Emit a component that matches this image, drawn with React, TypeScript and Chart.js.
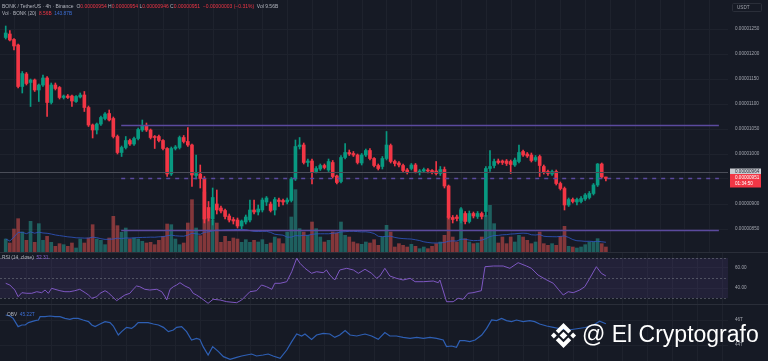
import React, { useEffect, useRef } from "react";
import { Chart, registerables } from "chart.js";
Chart.register(...registerables);

// ---------------- data ----------------
// prices are in units of 0.00000001 USDT (BONK/USDT, 4h candles)
const PRICE_UNIT = 1e-8;
const OPEN = [1233,1240,1229,1218,1135,1160,1143,1148,1128,1138,1152,1103,1138,1133,1113,1116,1116,1105,1114,1118,1093,1058,1048,1060,1071,1081,1071,1035,1003,1013,1027,1020,1031,1048,1057,1048,1035,1035,1027,1011,960,1011,1013,1033,1025,1018,957,960,951,893,870,900,892,887,876,869,868,856,864,868,888,884,888,904,900,888,908,907,904,907,950,1015,1018,983,986,965,970,977,968,983,956,945,993,1003,1001,998,982,998,1007,991,977,975,991,1017,985,982,977,968,971,978,963,966,968,967,966,961,969,936,873,874,867,881,865,881,875,881,885,971,977,986,986,986,985,978,985,1005,1000,998,988,995,975,965,960,965,941,931,898,909,904,905,910,913,921,938,980,954];
const HIGH = [1256,1247,1231,1220,1165,1163,1150,1150,1140,1158,1155,1142,1142,1135,1118,1119,1118,1117,1122,1125,1096,1060,1062,1076,1083,1088,1074,1038,1016,1035,1030,1034,1052,1068,1062,1050,1037,1038,1029,1013,1014,1017,1036,1037,1053,1020,998,978,955,905,932,928,896,890,880,873,872,868,878,908,908,898,912,915,904,913,912,910,912,953,1028,1033,1022,990,990,975,980,980,990,987,958,997,1021,1008,1005,1000,1001,1010,1011,993,980,995,1045,1020,988,985,980,971,981,981,969,972,971,969,985,975,974,938,877,878,893,885,886,884,885,884,975,1007,990,990,988,989,988,992,1018,1008,1003,1002,997,998,978,968,968,968,944,934,912,912,912,915,921,925,941,981,982,954];
const LOW = [1230,1226,1208,1132,1122,1138,1095,1125,1105,1135,1075,1100,1128,1110,1110,1111,1095,1103,1112,1085,1055,1032,1040,1057,1068,1066,1032,1000,995,1010,1017,1017,1028,1045,1045,1030,1011,1024,1008,955,957,1008,1010,1022,1015,935,950,932,862,866,858,880,882,870,864,860,852,850,860,864,880,878,884,897,884,878,895,898,900,904,947,1010,980,975,940,962,967,970,965,952,940,942,990,997,995,980,978,995,988,974,968,970,988,982,976,974,964,960,968,962,958,963,962,960,958,957,932,870,862,866,862,860,862,872,871,870,875,965,972,980,979,977,961,975,982,995,993,984,985,955,960,957,957,938,928,888,895,902,898,902,907,910,918,935,952,946];
const CLOSE = [1242,1228,1216,1135,1161,1141,1148,1128,1138,1152,1103,1138,1131,1113,1116,1113,1106,1115,1118,1093,1058,1048,1060,1073,1080,1068,1035,1003,1013,1027,1020,1031,1049,1056,1048,1033,1033,1027,1011,960,1011,1014,1033,1025,1018,958,961,951,870,872,913,888,886,875,868,866,856,866,874,888,884,890,908,912,887,909,905,904,908,950,1015,1018,983,986,963,971,977,973,985,955,943,993,1003,1000,998,983,998,1007,991,977,971,991,1018,985,981,978,967,963,978,965,966,969,966,963,961,969,936,873,869,871,888,865,881,876,881,875,971,975,985,983,983,981,979,988,1003,998,996,987,993,977,963,961,965,941,931,898,909,905,909,911,918,921,938,980,954,951];
// volume, relative units (last bar = 8.56B)
const VOLUME = [39,27,69,100,60,35,92,29,85,35,47,29,17,25,22,17,27,12,39,27,42,82,39,35,22,42,107,79,59,72,39,42,39,32,27,29,22,35,47,84,82,39,22,27,87,157,72,49,180,102,95,87,29,47,32,42,39,29,37,29,35,30,37,23,27,45,40,25,60,105,187,70,60,50,90,70,45,30,35,60,57,90,50,45,30,25,23,30,27,37,20,45,80,60,15,25,20,15,23,17,10,15,10,17,25,30,50,107,45,30,130,40,30,25,27,45,110,140,85,27,45,25,45,30,50,45,35,25,30,60,25,20,25,20,47,77,17,15,12,15,22,30,30,40,25,15];
// RSI (14, close): [candle index, value]
const RSI_POINTS: [number, number][] = [[0,44.7],[1,43],[2.2,38],[3,31.3],[3.9,35.3],[5.1,34.7],[6.3,34.7],[7.5,36.3],[8.7,35.3],[9.5,38],[10.3,34.7],[11.1,39.7],[11.9,38.7],[13.1,37.3],[14.3,36.3],[15.5,36.3],[16.7,37.3],[17.9,38.7],[19.2,35.3],[20,33],[20.8,29.7],[22,31.3],[22.8,34.7],[24,37.3],[24.8,35.3],[25.6,32],[26.8,27.3],[27.6,29.7],[28.8,33],[30,34.7],[30.8,38.7],[31.6,42],[32.4,41.3],[33.6,38.7],[34.8,38],[36.5,38.7],[37.7,36.3],[38.5,31.3],[38.9,28],[39.7,38.7],[40.5,41.3],[41.3,43],[42.1,45.3],[43.3,42],[44.5,39.7],[45.3,34.7],[46.1,33],[47.3,29.7],[48.9,24.7],[50.1,28.7],[51.8,28],[53.4,26.3],[55.8,25.3],[57,28],[59,36.3],[60.6,37.3],[61.8,43],[63,41.3],[64.3,38.7],[65,44.7],[66.3,44.7],[67.9,46.3],[69.1,56.3],[70.3,69.7],[71.1,64.7],[72.3,59.7],[73.9,54.7],[75.1,56.3],[76.7,55.3],[77.5,58],[78.3,53],[79.5,48],[80.7,58],[82.4,59.7],[84,58],[85.2,54.7],[86.8,58.7],[88.4,54.7],[89.6,49.7],[90.4,52],[91.6,59.7],[92.8,52],[94.4,49.7],[96,48],[97.7,49.7],[98.9,46.3],[100.9,46.3],[103.3,47],[104.5,45.3],[104.9,48],[106.5,26.3],[108.1,26.3],[109.3,29.7],[110.5,28.7],[111.7,34.7],[112.9,35.3],[114.9,37.3],[115.8,61.3],[117.8,62],[120.2,62],[121.8,59.7],[123.8,65.3],[125.8,62],[127,59.7],[128.6,53],[130.4,48.7],[132.3,44.7],[133.5,38.7],[134.7,33],[135.9,36.3],[137.1,35.3],[138.7,38],[139.9,41.3],[141.1,49.7],[142.7,61.3],[143.9,54.7],[145,52]];
// OBV in trillions: [candle index, value]
const OBV_POINTS: [number, number][] = [[0,46.4],[1,46.32],[1.8,46.13],[3,45.47],[3.9,45.6],[4.7,45.6],[5.5,45.79],[6.3,45.87],[7.1,45.95],[7.9,46],[8.3,46.27],[9.5,46.27],[10.7,46.32],[11.9,46.27],[13.1,46.27],[14.3,46.13],[15.5,46.05],[16.3,46.13],[17.5,46.13],[18.7,46],[20,45.87],[20.8,45.6],[21.6,45.47],[22.8,45.68],[24,45.87],[25.2,45.79],[26,45.52],[27.2,44.8],[28,45.07],[29.2,45.41],[30.4,45.33],[31.2,45.52],[32,45.79],[33.2,45.79],[34.4,45.79],[35.7,45.68],[36.9,45.6],[38.1,45.41],[39.3,45.07],[40.5,45.2],[41.3,45.41],[42.5,45.47],[43.7,45.07],[44.9,44.4],[46.1,44.53],[46.9,44.45],[47.7,43.87],[48.9,43.2],[50,43.87],[51.4,43.47],[52.6,43.07],[54.2,42.85],[55.8,43.01],[57,43.12],[58.2,43.2],[59.4,43.28],[60.6,43.12],[62.2,43.2],[63.4,43.28],[64.6,43.12],[66.3,42.93],[67.9,43.6],[69.1,44.27],[70.3,44.88],[71.5,44.72],[72.3,44.88],[73.9,44.45],[75.1,44.8],[76.7,44.93],[78.3,44.88],[79.5,44.61],[80.7,44.8],[82,45.15],[83.2,44.8],[84.8,44.72],[86.8,44.88],[88.4,44.72],[90,44.45],[91.6,44.99],[92.8,44.72],[94.4,44.72],[96,44.61],[97.7,44.53],[99.3,44.61],[100.9,44.53],[102.5,44.61],[104.1,44.53],[105.7,44.4],[106.5,43.87],[107.7,43.92],[108.9,43.81],[109.7,44.35],[110.9,44.35],[112.1,44.27],[113.4,44.4],[115,44.8],[116.2,45.33],[117.4,46],[118.6,45.95],[119.8,46.13],[121,45.95],[122.2,45.87],[123.4,46],[125,45.87],[126.6,45.95],[127.8,45.87],[129,45.68],[130.7,45.52],[132.3,45.41],[134,45.3],[136,45.2],[138,45.3],[140,45.4],[142,45.6],[143.5,45.9],[145,45.7]];

const PRICE_TICKS = [850, 900, 950, 1000, 1050, 1100, 1150, 1200, 1250];
const RSI_TICKS = [40, 60];
const OBV_TICKS = [44, 46];

// horizontal drawings (price levels, from/to candle index)
const LEVEL_PRICES = [1058, 964, 952, 848];
const LEVEL_FROM = [27.9, -1.4, 27.9, 27.9];
const LEVEL_TO = [172.3, 174.5, 172.3, 172.3];
const LEVEL_DASHED = [false, false, true, false];
const LEVEL_COLORS = ["#5b4a9e", "#4a4d58", "#5b4a9e", "#5b4a9e"];

// ---------------- style ----------------
const BG = "#161a25";
const GRID = "#1e222d";
const TXT = "#a3a6af";
const GREEN = "#089981";
const RED = "#f23645";
const FONT = "'Liberation Sans', Arial, sans-serif";
const X_MIN = -1.38;
const X_MAX = 174.5;
const GRID_START = 5.09;
const GRID_STEP = 6;
const AXIS_W = 40;

const fmtPrice = (v: number) => (v * PRICE_UNIT).toFixed(8);

function xAxis(): any {
  return {
    type: "linear",
    min: X_MIN,
    max: X_MAX,
    offset: false,
    ticks: { display: false },
    grid: { color: GRID, drawTicks: false, lineWidth: 1 },
    border: { display: false },
    afterBuildTicks: (s: any) => {
      const t: any[] = [];
      for (let v = GRID_START; v < X_MAX; v += GRID_STEP) t.push({ value: v });
      s.ticks = t;
    },
  };
}

function rightAxis(min: number, max: number, ticks: number[], fmt: (v: number) => string): any {
  return {
    type: "linear",
    position: "right",
    min,
    max,
    afterBuildTicks: (s: any) => {
      s.ticks = ticks.map((v) => ({ value: v }));
    },
    afterFit: (s: any) => {
      s.width = AXIS_W;
      s.paddingTop = 0;
      s.paddingBottom = 0;
    },
    ticks: { color: TXT, font: { family: FONT, size: 4.6 }, padding: 7, callback: (v: any) => fmt(Number(v)) },
    grid: { color: GRID, drawTicks: false },
    border: { display: false },
  };
}

const baseOpts: any = {
  responsive: false,
  maintainAspectRatio: false,
  animation: false,
  events: [],
  layout: { padding: 0 },
  plugins: { legend: { display: false }, tooltip: { enabled: false } },
};

const levelsPlugin = {
  id: "levels",
  afterDatasetsDraw(chart: any) {
    const { ctx, scales } = chart;
    const xs = scales.x, ys = scales.y;
    ctx.save();
    LEVEL_PRICES.forEach((p, k) => {
      const y = Math.round(ys.getPixelForValue(p)) + 0.5;
      ctx.beginPath();
      ctx.strokeStyle = LEVEL_COLORS[k];
      ctx.lineWidth = k === 1 ? 1 : 1.4;
      ctx.setLineDash(LEVEL_DASHED[k] ? [4, 5] : []);
      ctx.moveTo(xs.getPixelForValue(LEVEL_FROM[k]), y);
      ctx.lineTo(xs.getPixelForValue(LEVEL_TO[k]), y);
      ctx.stroke();
    });
    ctx.restore();
  },
  afterDraw(chart: any) {
    const { ctx, scales, chartArea } = chart;
    const ys = scales.y;
    const x0 = chartArea.right + 2;
    const w = 31;
    ctx.save();
    ctx.font = `4.6px ${FONT}`;
    ctx.textBaseline = "middle";
    // gray level label
    const yg = ys.getPixelForValue(LEVEL_PRICES[1]);
    ctx.fillStyle = "#c9cbd1";
    ctx.fillRect(x0, yg - 3.5, w, 6.5);
    ctx.fillStyle = "#2a2e39";
    ctx.fillText(fmtPrice(LEVEL_PRICES[1]), x0 + 5, yg);
    // last price label
    const last = CLOSE[CLOSE.length - 1];
    const yl = ys.getPixelForValue(last);
    ctx.fillStyle = RED;
    ctx.fillRect(x0, yl - 4.5, w, 13.5);
    ctx.fillStyle = "#ffffff";
    ctx.fillText(fmtPrice(last), x0 + 5, yl - 0.5);
    ctx.fillText("01:34:50", x0 + 5, yl + 5.5);
    ctx.restore();
  },
};

const rsiBandPlugin = {
  id: "rsiBand",
  beforeDatasetsDraw(chart: any) {
    const { ctx, scales, chartArea } = chart;
    const ys = scales.y;
    const y70 = ys.getPixelForValue(70), y30 = ys.getPixelForValue(30), y50 = ys.getPixelForValue(50);
    ctx.save();
    ctx.fillStyle = "rgba(126,87,194,0.12)";
    ctx.fillRect(chartArea.left, y70, chartArea.right - chartArea.left, y30 - y70);
    ctx.strokeStyle = "rgba(120,123,134,0.55)";
    ctx.lineWidth = 1;
    ctx.setLineDash([2, 2]);
    [y70, y50, y30].forEach((y) => {
      ctx.beginPath();
      ctx.moveTo(chartArea.left, Math.round(y) + 0.5);
      ctx.lineTo(chartArea.right, Math.round(y) + 0.5);
      ctx.stroke();
    });
    ctx.restore();
  },
};

export default function App() {
  const mainRef = useRef<HTMLCanvasElement>(null);
  const rsiRef = useRef<HTMLCanvasElement>(null);
  const obvRef = useRef<HTMLCanvasElement>(null);

  useEffect(() => {
    const idx = OPEN.map((_, i) => i);
    const up = idx.map((i) => CLOSE[i] >= OPEN[i]);
    const volMA = VOLUME.map((_, i) => {
      const w = VOLUME.slice(Math.max(0, i - 19), i + 1);
      return w.reduce((a, b) => a + b, 0) / w.length;
    });

    const main = new Chart(mainRef.current!, {
      type: "bar",
      data: {
        datasets: [
          {
            type: "bar",
            data: idx.map((i) => ({ x: i, y: VOLUME[i] })) as any,
            yAxisID: "vol",
            backgroundColor: up.map((u) => (u ? "rgba(38,166,154,0.5)" : "rgba(239,83,80,0.5)")),
            barThickness: 3,
            grouped: false,
            order: 3,
          } as any,
          {
            type: "line",
            data: idx.map((i) => ({ x: i, y: volMA[i] })) as any,
            yAxisID: "vol",
            borderColor: "rgba(47,85,190,0.85)",
            borderWidth: 1,
            pointRadius: 0,
            tension: 0,
            order: 2,
          } as any,
          {
            type: "bar",
            data: idx.map((i) => ({ x: i, y: [LOW[i], HIGH[i]] })) as any,
            yAxisID: "y",
            backgroundColor: up.map((u) => (u ? GREEN : RED)),
            barThickness: 1,
            grouped: false,
            order: 1,
          } as any,
          {
            type: "bar",
            data: idx.map((i) => ({ x: i, y: [Math.min(OPEN[i], CLOSE[i]), Math.max(OPEN[i], CLOSE[i])] })) as any,
            yAxisID: "y",
            backgroundColor: up.map((u) => (u ? GREEN : RED)),
            barThickness: 3,
            grouped: false,
            order: 0,
          } as any,
        ],
      },
      options: {
        ...baseOpts,
        scales: {
          x: xAxis(),
          y: rightAxis(804, 1308, PRICE_TICKS, fmtPrice),
          vol: { type: "linear", display: false, min: 0, max: 756 },
        },
      },
      plugins: [levelsPlugin],
    });

    const rsi = new Chart(rsiRef.current!, {
      type: "line",
      data: {
        datasets: [
          {
            data: RSI_POINTS.map(([x, y]) => ({ x, y })) as any,
            borderColor: "#7e57c2",
            borderWidth: 1,
            pointRadius: 0,
            tension: 0,
          },
        ],
      },
      options: {
        ...baseOpts,
        scales: { x: xAxis(), y: rightAxis(24, 75, RSI_TICKS, (v) => v.toFixed(2)) },
      },
      plugins: [rsiBandPlugin],
    });

    const obv = new Chart(obvRef.current!, {
      type: "line",
      data: {
        datasets: [
          {
            data: OBV_POINTS.map(([x, y]) => ({ x, y })) as any,
            borderColor: "#2e5fb4",
            borderWidth: 1.2,
            pointRadius: 0,
            tension: 0,
          },
        ],
      },
      options: {
        ...baseOpts,
        scales: { x: xAxis(), y: rightAxis(42.72, 47.2, OBV_TICKS, (v) => `${v}T`) },
      },
    });

    return () => {
      main.destroy();
      rsi.destroy();
      obv.destroy();
    };
  }, []);

  const txt = (extra: any): any => ({
    position: "absolute",
    fontFamily: FONT,
    whiteSpace: "nowrap",
    lineHeight: 1,
    ...extra,
  });

  return (
    <div style={{ position: "fixed", left: 0, top: 0, width: 768, height: 361, background: BG, overflow: "hidden" }}>
      <canvas ref={mainRef} width={768} height={252} style={{ position: "absolute", left: 0, top: 0, width: 768, height: 252 }} />
      <div style={{ position: "absolute", left: 0, top: 252, width: 768, height: 1, background: "#2a2e39" }} />
      <canvas ref={rsiRef} width={768} height={51} style={{ position: "absolute", left: 0, top: 253, width: 768, height: 51 }} />
      <div style={{ position: "absolute", left: 0, top: 304, width: 768, height: 1, background: "#2a2e39" }} />
      <canvas ref={obvRef} width={768} height={56} style={{ position: "absolute", left: 0, top: 305, width: 768, height: 56 }} />

      {/* legends */}
      <div style={txt({ left: 2, top: 3.5, fontSize: 5, color: "#b2b5be" })}>
        BONK / TetherUS · 4h · Binance&nbsp;&nbsp;O<span style={{ color: RED }}>0.00000954</span>&nbsp;H
        <span style={{ color: RED }}>0.00000954</span>&nbsp;L<span style={{ color: RED }}>0.00000946</span>&nbsp;C
        <span style={{ color: RED }}>0.00000951</span>&nbsp;&nbsp;<span style={{ color: RED }}>−0.00000003 (−0.31%)</span>&nbsp;&nbsp;Vol 9.56B
      </div>
      <div style={txt({ left: 2, top: 11.5, fontSize: 4.8, color: "#b2b5be" })}>
        Vol · BONK (20)&nbsp;&nbsp;<span style={{ color: RED }}>8.56B</span>&nbsp;&nbsp;<span style={{ color: "#3d6fd6" }}>143.87B</span>
      </div>
      <div style={txt({ left: 2, top: 255.5, fontSize: 4.8, color: "#b2b5be" })}>
        RSI (14, close)&nbsp;&nbsp;<span style={{ color: "#8a63d2" }}>52.31</span>
      </div>
      <div style={txt({ left: 7, top: 313, fontSize: 4.8, color: "#b2b5be" })}>
        OBV&nbsp;&nbsp;<span style={{ color: "#3d6fd6" }}>45.22T</span>
      </div>

      {/* currency box */}
      <div
        style={txt({
          left: 732, top: 3, width: 30, height: 9, boxSizing: "border-box", border: "1px solid #2a2e39",
          borderRadius: 1.5, fontSize: 4.6, color: TXT, paddingLeft: 4, paddingTop: 1.8,
        })}
      >
        USDT
      </div>

      {/* watermark */}
      <svg width={27} height={27} viewBox="0 0 28 28" style={{ position: "absolute", left: 550, top: 322 }}>
        <g fill="#ffffff">
          <polygon points="14,10 18,14 14,18 10,14" />
          <polygon points="4,11 7,14 4,17 1,14" />
          <polygon points="24,11 27,14 24,17 21,14" />
          <polygon points="14,1 22,9 19,12 14,7 9,12 6,9" />
          <polygon points="14,27 22,19 19,16 14,21 9,16 6,19" />
        </g>
      </svg>
      <div style={txt({ left: 582, top: 322.5, fontSize: 23, color: "#ffffff" })}>@ El Cryptografo</div>
    </div>
  );
}
